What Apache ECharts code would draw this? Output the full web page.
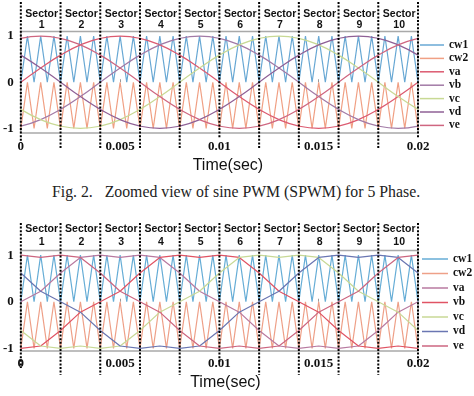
<!DOCTYPE html>
<html>
<head>
<meta charset="utf-8">
<script src="https://cdn.jsdelivr.net/npm/echarts@6/dist/echarts.min.js"></script>
<style>
  html, body { margin: 0; padding: 0; background: #fff; }
  .page { position: relative; width: 474px; height: 396px; overflow: hidden; }
  #topChart { position: absolute; left: 0; top: 0; width: 474px; height: 180px; }
  #bottomChart { position: absolute; left: 0; top: 210px; width: 474px; height: 186px; }
  .caption {
    position: absolute; left: 52px; top: 183px;
    font-family: 'Liberation Serif', 'Times New Roman', serif;
    font-size: 15.8px; line-height: 18px; white-space: pre; color: #222;
  }
</style>
</head>
<body>
<div class="page">
  <div id="topChart"></div>
  <div class="caption">Fig. 2.   Zoomed view of sine PWM (SPWM) for 5 Phase.</div>
  <div id="bottomChart"></div>
</div>
<script>
// time base of the reference waveforms (s)
const time = [0, 0.001, 0.002, 0.003, 0.004, 0.005, 0.006, 0.007, 0.008, 0.009, 0.01,
  0.011, 0.012, 0.013, 0.014, 0.015, 0.016, 0.017, 0.018, 0.019, 0.02]

// carrier vertices (s)
const carrierTime = [
  0, 0.000333, 0.000667, 0.001, 0.001333, 0.001667, 0.002, 0.002333, 0.002667, 0.003,
  0.003333, 0.003667, 0.004, 0.004333, 0.004667, 0.005, 0.005333, 0.005667, 0.006, 0.006333,
  0.006667, 0.007, 0.007333, 0.007667, 0.008, 0.008333, 0.008667, 0.009, 0.009333, 0.009667,
  0.01, 0.010333, 0.010667, 0.011, 0.011333, 0.011667, 0.012, 0.012333, 0.012667, 0.013,
  0.013333, 0.013667, 0.014, 0.014333, 0.014667, 0.015, 0.015333, 0.015667, 0.016, 0.016333,
  0.016667, 0.017, 0.017333, 0.017667, 0.018, 0.018333, 0.018667, 0.019, 0.019333, 0.019667,
  0.02
]
const cw1 = [
  0, 1, 0, 1, 0, 1, 0, 1, 0, 1,
  0, 1, 0, 1, 0, 1, 0, 1, 0, 1,
  0, 1, 0, 1, 0, 1, 0, 1, 0, 1,
  0, 1, 0, 1, 0, 1, 0, 1, 0, 1,
  0, 1, 0, 1, 0, 1, 0, 1, 0, 1,
  0, 1, 0, 1, 0, 1, 0, 1, 0, 1,
  0
]
const cw2 = [
  -1, 0, -1, 0, -1, 0, -1, 0, -1, 0,
  -1, 0, -1, 0, -1, 0, -1, 0, -1, 0,
  -1, 0, -1, 0, -1, 0, -1, 0, -1, 0,
  -1, 0, -1, 0, -1, 0, -1, 0, -1, 0,
  -1, 0, -1, 0, -1, 0, -1, 0, -1, 0,
  -1, 0, -1, 0, -1, 0, -1, 0, -1, 0,
  -1
]

// top plot: plain sine references
const vaSine = [0, 0.309, 0.588, 0.809, 0.951, 1, 0.951, 0.809, 0.588, 0.309, 0, -0.309, -0.588, -0.809, -0.951, -1, -0.951, -0.809, -0.588, -0.309, 0]
const vbSine = [-0.951, -0.809, -0.588, -0.309, 0, 0.309, 0.588, 0.809, 0.951, 1, 0.951, 0.809, 0.588, 0.309, 0, -0.309, -0.588, -0.809, -0.951, -1, -0.951]
const vcSine = [-0.588, -0.809, -0.951, -1, -0.951, -0.809, -0.588, -0.309, 0, 0.309, 0.588, 0.809, 0.951, 1, 0.951, 0.809, 0.588, 0.309, 0, -0.309, -0.588]
const vdSine = [0.588, 0.309, 0, -0.309, -0.588, -0.809, -0.951, -1, -0.951, -0.809, -0.588, -0.309, 0, 0.309, 0.588, 0.809, 0.951, 1, 0.951, 0.809, 0.588]
const veSine = [0.951, 1, 0.951, 0.809, 0.588, 0.309, 0, -0.309, -0.588, -0.809, -0.951, -1, -0.951, -0.809, -0.588, -0.309, 0, 0.309, 0.588, 0.809, 0.951]

// bottom plot: flat-topped references
const vaMod = [0, 0.224, 0.618, 0.951, 1, 0.951, 1, 0.951, 0.618, 0.224, 0, -0.224, -0.618, -0.951, -1, -0.951, -1, -0.951, -0.618, -0.224, 0]
const vbMod = [-1, -0.951, -0.618, -0.224, 0, 0.224, 0.618, 0.951, 1, 0.951, 1, 0.951, 0.618, 0.224, 0, -0.224, -0.618, -0.951, -1, -0.951, -1]
const vcMod = [-0.618, -0.951, -1, -0.951, -1, -0.951, -0.618, -0.224, 0, 0.224, 0.618, 0.951, 1, 0.951, 1, 0.951, 0.618, 0.224, 0, -0.224, -0.618]
const vdMod = [0.618, 0.224, 0, -0.224, -0.618, -0.951, -1, -0.951, -1, -0.951, -0.618, -0.224, 0, 0.224, 0.618, 0.951, 1, 0.951, 1, 0.951, 0.618]
const veMod = [1, 0.951, 1, 0.951, 0.618, 0.224, 0, -0.224, -0.618, -0.951, -1, -0.951, -1, -0.951, -0.618, -0.224, 0, 0.224, 0.618, 0.951, 1]

// sectors
const sectorEdges = [0, 0.002, 0.004, 0.006, 0.008, 0.01, 0.012, 0.014, 0.016, 0.018, 0.02]
const sectorNames = ['1', '2', '3', '4', '5', '6', '7', '8', '9', '10']
const seriesNames = ['cw1', 'cw2', 'va', 'vb', 'vc', 'vd', 've']

const SERIF = "'Liberation Serif', 'Times New Roman', serif"
const SANS = "'Liberation Sans', Arial, sans-serif"

const lineSeries = (name, data, color, smooth) => ({
  name,
  type: 'line',
  data,
  symbol: 'none',
  smooth,
  silent: true,
  itemStyle: { color },
  lineStyle: { color, width: 1.2 }
})

// 构建单个图的配置
const buildOption = (cfg) => {
  const carrier = (vals) => carrierTime.map((t, i) => [t, vals[i]])
  const wave = (vals) => time.map((t, i) => [t, vals[i]])
  const c = cfg.colors
  return {
    animation: false,
    grid: {
      left: 18.5, top: cfg.gridTop, width: 399.5, height: cfg.gridHeight,
      show: true, borderColor: '#a9a9a9', borderWidth: 1.5
    },
    xAxis: {
      type: 'value', min: 0, max: 0.02, interval: 0.005,
      axisLine: { show: false },
      axisTick: { show: true, inside: true, length: 3, lineStyle: { color: '#999' } },
      splitLine: { show: false },
      axisLabel: { margin: cfg.xLabelMargin, color: '#111', fontFamily: SERIF, fontWeight: 'bold', fontSize: 13 },
      name: 'Time(sec)',
      nameLocation: 'middle',
      nameGap: cfg.nameGap,
      nameTextStyle: { fontFamily: SANS, fontSize: 16, color: '#111', padding: [0, 0, 0, cfg.namePad] }
    },
    yAxis: {
      type: 'value', min: cfg.yMin, max: 1.1, interval: cfg.yStep,
      axisLine: { show: false },
      axisTick: { show: false },
      splitLine: { show: false },
      axisLabel: {
        margin: 7, color: '#111', fontFamily: SERIF, fontWeight: 'bold', fontSize: 13,
        formatter: (v) => {
          const r = Math.round(v)
          return Math.abs(v - r) < 1e-6 ? String(r) : ''
        }
      }
    },
    legend: {
      orient: 'vertical', left: cfg.legendLeft, top: cfg.legendTop, padding: 0,
      icon: 'rect', itemWidth: cfg.legendIconW, itemHeight: 1.5, itemGap: cfg.legendGap,
      selectedMode: false,
      data: seriesNames,
      textStyle: { fontFamily: SERIF, fontWeight: 'bold', fontSize: 11.5, lineHeight: 12, color: '#111' }
    },
    series: [
      lineSeries('cw1', carrier(cw1), c[0], false),
      lineSeries('cw2', carrier(cw2), c[1], false),
      lineSeries('va', wave(cfg.waves[0]), c[2], cfg.smooth),
      lineSeries('vb', wave(cfg.waves[1]), c[3], cfg.smooth),
      lineSeries('vc', wave(cfg.waves[2]), c[4], cfg.smooth),
      lineSeries('vd', wave(cfg.waves[3]), c[5], cfg.smooth),
      lineSeries('ve', wave(cfg.waves[4]), c[6], cfg.smooth)
    ]
  }
}

// 扇区虚线与标签
const addSectors = (chart, g) => {
  const px = (t) => chart.convertToPixel({ gridIndex: 0 }, [t, 0])[0]
  const elements = []
  sectorNames.forEach((name, i) => {
    const x = (px(sectorEdges[i]) + px(sectorEdges[i + 1])) / 2 + 1
    elements.push({
      type: 'text', x, y: g.sectorY, z: 50, silent: true,
      style: { text: 'Sector', font: `bold 10.5px ${SANS}`, fill: '#111', align: 'center', verticalAlign: 'middle' }
    })
    elements.push({
      type: 'text', x, y: g.numberY, z: 50, silent: true,
      style: { text: name, font: `bold 10.5px ${SANS}`, fill: '#111', align: 'center', verticalAlign: 'middle' }
    })
  })
  sectorEdges.forEach((t) => {
    const x = px(t)
    let y2 = g.lineBottom
    if (t === 0) y2 = g.lineBottomZero
    if (t === 0.01 || t === 0.02) y2 = g.lineBottomLabel
    elements.push({
      type: 'line', z: 100, silent: true,
      shape: { x1: x, y1: g.lineTop, x2: x, y2 },
      style: { stroke: '#000', lineWidth: 2, lineDash: [2, 1.6] }
    })
  })
  chart.setOption({ graphic: elements })
}

const topChart = echarts.init(document.getElementById('topChart'))
topChart.setOption(buildOption({
  gridTop: 31.5, gridHeight: 101.5, yMin: -1.1, yStep: 0.1,
  xLabelMargin: 7, nameGap: 23, namePad: 17,
  legendLeft: 420, legendTop: 39, legendGap: 1.4, legendIconW: 24,
  smooth: true,
  waves: [vaSine, vbSine, vcSine, vdSine, veSine],
  colors: ['#68a8d4', '#f0a084', '#dc5a70', '#a27aa6', '#c8d994', '#8f6096', '#cf6680']
}))
addSectors(topChart, { sectorY: 14, numberY: 25.5, lineTop: 2, lineBottom: 148, lineBottomZero: 143, lineBottomLabel: 138 })

const bottomChart = echarts.init(document.getElementById('bottomChart'))
bottomChart.setOption(buildOption({
  gridTop: 40.5, gridHeight: 107.8, yMin: -1.06, yStep: 0.02,
  xLabelMargin: 6, nameGap: 20.5, namePad: 12,
  legendLeft: 422, legendTop: 43, legendGap: 2.5, legendIconW: 26,
  smooth: false,
  waves: [vaMod, vbMod, vcMod, vdMod, veMod],
  colors: ['#66add6', '#eea088', '#b87aa0', '#e05464', '#c8d996', '#6a76b2', '#cc6680']
}))
addSectors(bottomChart, { sectorY: 19.3, numberY: 31.7, lineTop: 13, lineBottom: 165, lineBottomZero: 158, lineBottomLabel: 153 })
</script>
</body>
</html>
